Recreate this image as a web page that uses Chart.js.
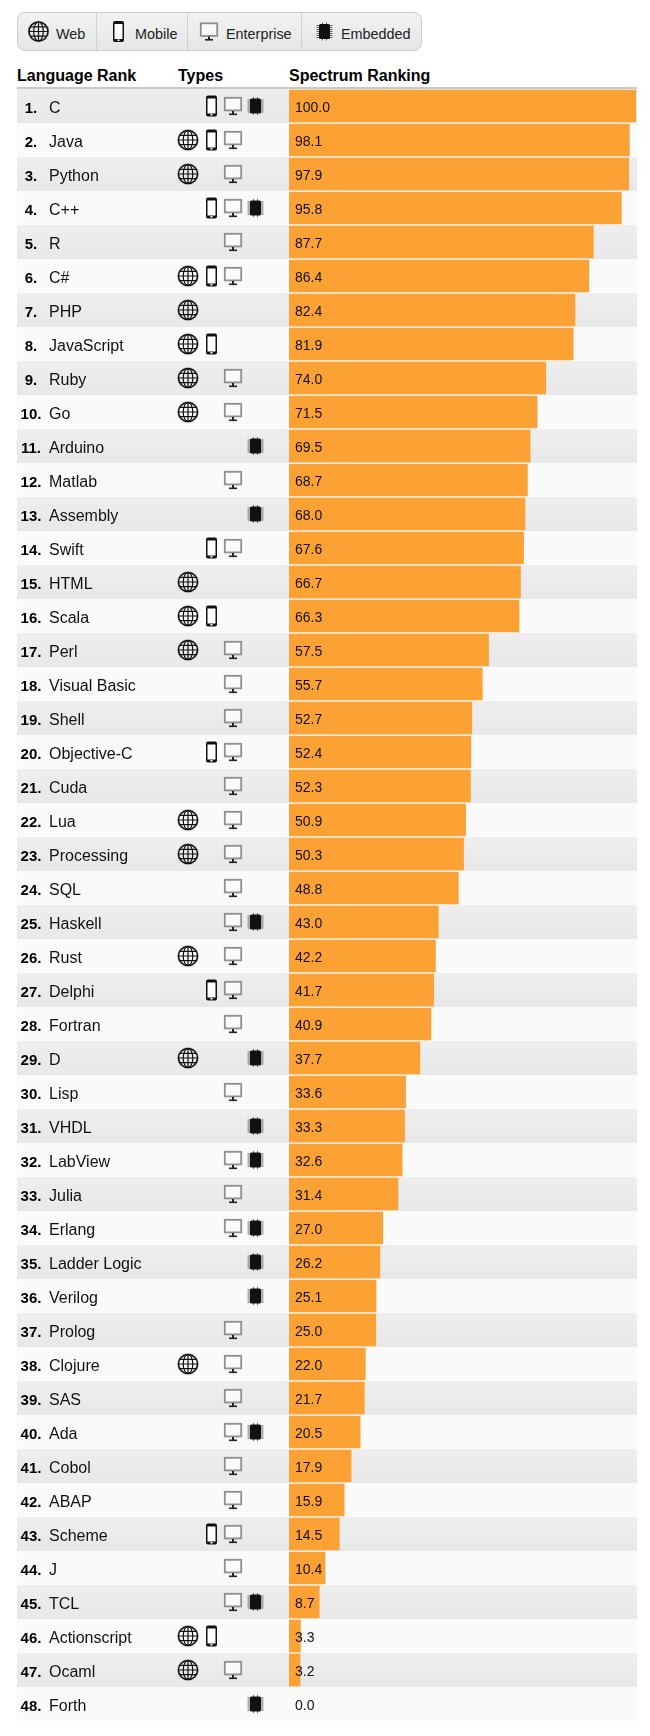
<!DOCTYPE html>
<html>
<head>
<meta charset="utf-8">
<script src="https://cdn.jsdelivr.net/npm/chart.js@4"></script>
<style>
    html, body { margin: 0; padding: 0; background: #fff; }
    body { width: 650px; height: 1736px; position: relative; overflow: hidden;
           font-family: "Liberation Sans", Arial, sans-serif; color: #111; }
    #chart { position: absolute; left: 0; top: 0; }
    #legend { position: absolute; left: 17px; top: 12px; width: 403px; height: 37px;
              border: 1px solid #ccc; border-radius: 8px;
              background: linear-gradient(#f2f2f2, #e6e6e6); }
    .sep { position: absolute; top: 0; bottom: 0; width: 1px; background: #d0d0d0; }
    .lg { position: absolute; top: 13px; font-size: 14.4px; line-height: 16px; color: #222; }
    .hd { position: absolute; top: 66px; font-size: 16px; line-height: 20px; font-weight: bold; color: #000; }
    #rule { position: absolute; left: 17px; top: 87px; width: 620px; height: 2px; background: #c8c8c8; }
</style>
</head>
<body>
<div id="legend">
    <div class="sep" style="left:78px"></div>
    <div class="sep" style="left:169px"></div>
    <div class="sep" style="left:283px"></div>
    <div class="lg" style="left:38px">Web</div>
    <div class="lg" style="left:117px">Mobile</div>
    <div class="lg" style="left:208px">Enterprise</div>
    <div class="lg" style="left:323px">Embedded</div>
</div>
<div class="hd" style="left:17px">Language Rank</div>
<div class="hd" style="left:178px">Types</div>
<div class="hd" style="left:289px">Spectrum Ranking</div>
<div id="rule"></div>
<canvas id="chart" width="650" height="1736"></canvas>
<script>
const languages = ['C', 'Java', 'Python', 'C++', 'R', 'C#', 'PHP', 'JavaScript', 'Ruby', 'Go', 'Arduino', 'Matlab',
    'Assembly', 'Swift', 'HTML', 'Scala', 'Perl', 'Visual Basic', 'Shell', 'Objective-C', 'Cuda', 'Lua', 'Processing', 'SQL',
    'Haskell', 'Rust', 'Delphi', 'Fortran', 'D', 'Lisp', 'VHDL', 'LabView', 'Julia', 'Erlang', 'Ladder Logic', 'Verilog',
    'Prolog', 'Clojure', 'SAS', 'Ada', 'Cobol', 'ABAP', 'Scheme', 'J', 'TCL', 'Actionscript', 'Ocaml', 'Forth'];

const scores = [100.0, 98.1, 97.9, 95.8, 87.7, 86.4, 82.4, 81.9, 74.0, 71.5, 69.5, 68.7,
    68.0, 67.6, 66.7, 66.3, 57.5, 55.7, 52.7, 52.4, 52.3, 50.9, 50.3, 48.8,
    43.0, 42.2, 41.7, 40.9, 37.7, 33.6, 33.3, 32.6, 31.4, 27.0, 26.2, 25.1,
    25.0, 22.0, 21.7, 20.5, 17.9, 15.9, 14.5, 10.4, 8.7, 3.3, 3.2, 0.0];

// ranks (1-based) carrying each type icon
const webRanks = [2, 3, 6, 7, 8, 9, 10, 15, 16, 17, 22, 23, 26, 29, 38, 46, 47];
const mobileRanks = [1, 2, 4, 6, 8, 14, 16, 20, 27, 43, 46];
const enterpriseRanks = [1, 2, 3, 4, 5, 6, 9, 10, 12, 14, 17, 18, 19, 20, 21, 22, 23, 24, 25, 26, 27, 28,
    30, 32, 33, 34, 37, 38, 39, 40, 41, 42, 43, 44, 45, 47];
const embeddedRanks = [1, 4, 11, 13, 25, 29, 31, 32, 34, 35, 36, 40, 45, 48];

function drawGlobe(g, x, y) {
    g.save();
    g.translate(x, y);
    g.strokeStyle = '#c4c4c4';
    g.lineWidth = 1;
    g.beginPath();
    g.arc(0, 0, 10.5, 0, Math.PI * 2);
    g.stroke();
    g.strokeStyle = '#111';
    g.lineWidth = 1.6;
    g.beginPath();
    g.arc(0, 0, 9.5, 0, Math.PI * 2);
    g.stroke();
    g.lineWidth = 1.2;
    g.beginPath();
    g.ellipse(0, 0, 4.8, 9.5, 0, 0, Math.PI * 2);
    g.moveTo(0, -9.5);
    g.lineTo(0, 9.5);
    g.moveTo(-9.5, 0);
    g.lineTo(9.5, 0);
    g.moveTo(-8.2, -4.6);
    g.lineTo(8.2, -4.6);
    g.moveTo(-8.2, 4.6);
    g.lineTo(8.2, 4.6);
    g.stroke();
    g.restore();
}

function drawMobile(g, x, y) {
    g.save();
    g.translate(x, y);
    g.fillStyle = '#111';
    g.beginPath();
    g.roundRect(-5.5, -10.5, 11, 21, 2);
    g.fill();
    g.fillStyle = '#fff';
    g.fillRect(-4, -7.5, 8, 15);
    g.fillRect(-1, 8, 2, 1.5);
    g.restore();
}

function drawMonitor(g, x, y) {
    g.save();
    g.translate(x, y);
    g.fillStyle = '#fafafa';
    g.fillRect(-9, -9, 18, 13.5);
    g.strokeStyle = '#8f8f8f';
    g.lineWidth = 1.8;
    g.strokeRect(-8.2, -8.2, 16.4, 12.6);
    g.fillStyle = '#222';
    g.fillRect(-1, 5, 2, 3);
    g.fillRect(-4, 7.5, 8, 1.6);
    g.restore();
}

function drawChip(g, x, y) {
    g.save();
    g.translate(x, y);
    g.fillStyle = '#666';
    for (let k = -3; k <= 3; k++) {
        g.fillRect(-8, k * 2 - 0.5, 3, 1);
        g.fillRect(5, k * 2 - 0.5, 3, 1);
    }
    g.fillRect(-2.5, -9, 1, 2);
    g.fillRect(1.5, -9, 1, 2);
    g.fillRect(-2.5, 7, 1, 2);
    g.fillRect(1.5, 7, 1, 2);
    g.fillStyle = '#111';
    g.beginPath();
    g.roundRect(-5.5, -7.5, 11, 15, 1.5);
    g.fill();
    g.restore();
}

const tablePlugin = {
    id: 'tablePlugin',
    beforeDraw(chart) {
        const g = chart.ctx, y = chart.scales.y;
        languages.forEach((name, i) => {
            const mid = y.getPixelForValue(i);
            const top = mid - 17;
            if (i % 2 === 0) {
                const grad = g.createLinearGradient(0, top, 0, top + 34);
                grad.addColorStop(0, '#eeeeee');
                grad.addColorStop(1, '#e8e8e8');
                g.fillStyle = grad;
            } else {
                g.fillStyle = '#fafafa';
            }
            g.fillRect(17, top, 620, 34);
        });
    },
    afterDatasetsDraw(chart) {
        const g = chart.ctx, x = chart.scales.x, y = chart.scales.y;
        g.save();
        languages.forEach((name, i) => {
            const mid = y.getPixelForValue(i), rank = i + 1;
            g.font = 'bold 15px "Liberation Sans"';
            g.fillStyle = '#000';
            g.textAlign = 'center';
            g.textBaseline = 'alphabetic';
            g.fillText(rank + '.', 31, mid + 7);

            g.font = '14px "Liberation Sans"';
            g.fillStyle = '#111';
            g.textAlign = 'left';
            g.fillText(scores[i].toFixed(1), x.getPixelForValue(0) + 6, mid + 6);

            if (webRanks.includes(rank)) drawGlobe(g, 188, mid);
            if (mobileRanks.includes(rank)) drawMobile(g, 211.5, mid);
            if (enterpriseRanks.includes(rank)) drawMonitor(g, 233, mid);
            if (embeddedRanks.includes(rank)) drawChip(g, 255.5, mid);
        });
        // legend icons sit on the page above the table
        drawGlobe(g, 38.5, 31.5);
        drawMobile(g, 118.5, 31.5);
        drawMonitor(g, 209, 31.5);
        drawChip(g, 324.5, 31.5);
        g.restore();
    }
};

const chart = new Chart(document.getElementById('chart').getContext('2d'), {
    type: 'bar',
    data: {
        labels: languages,
        datasets: [{
            label: 'Spectrum Ranking',
            data: scores,
            backgroundColor: (c) => (c.raw > 0 ? '#fca234' : 'transparent'),
            borderWidth: 0,
            barThickness: 32
        }]
    },
    options: {
        indexAxis: 'y',
        responsive: false,
        animation: false,
        devicePixelRatio: 1,
        layout: { padding: { left: 49, right: 14, top: 89, bottom: 15 } },
        scales: {
            x: { display: false, min: 0, max: 100 },
            y: {
                grid: { display: false },
                border: { display: false },
                afterFit(scale) { scale.width = 240; },
                ticks: {
                    autoSkip: false,
                    crossAlign: 'far',
                    labelOffset: 3,
                    color: '#111',
                    font: { family: '"Liberation Sans"', size: 16 }
                }
            }
        },
        plugins: {
            legend: { display: false },
            tooltip: { enabled: false }
        }
    },
    plugins: [tablePlugin]
});
</script>
</body>
</html>
